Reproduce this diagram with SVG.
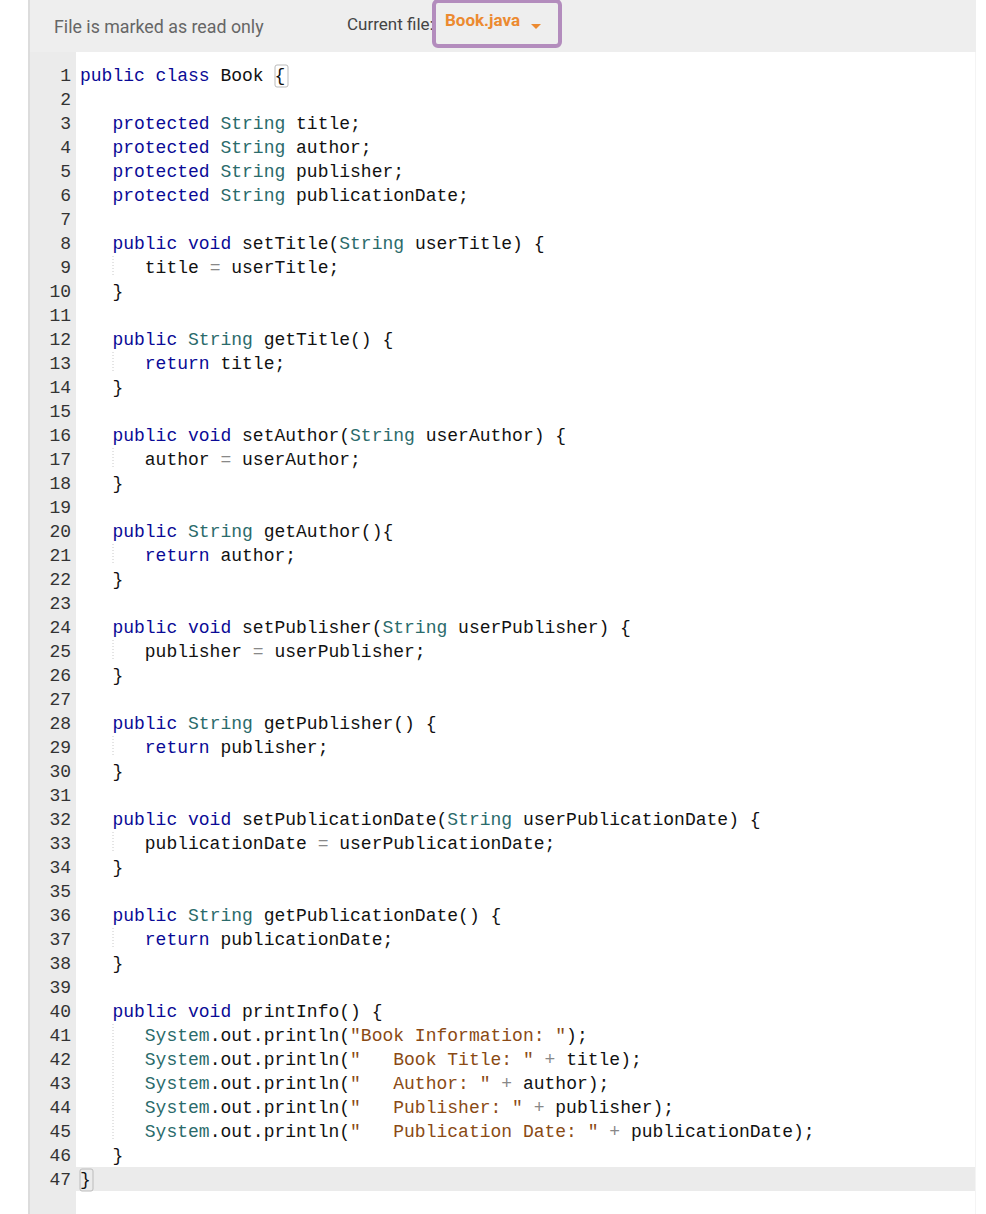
<svg xmlns="http://www.w3.org/2000/svg" width="986" height="1214" viewBox="0 0 986 1214">
<style>
.c{font-family:"Liberation Mono",monospace;font-size:18px;fill:#111;white-space:pre}
.n{font-family:"Liberation Mono",monospace;font-size:18px;fill:#333;text-anchor:end}
.k{fill:#0a0a96}.t{fill:#2b6b6b}.s{fill:#8a4a14}.o{fill:#888}
.h{font-family:Roboto,"Liberation Sans",sans-serif;font-size:17.8px;fill:#666}
.g{stroke:#c8c8c8;stroke-width:1;stroke-dasharray:1 2}
</style>
<rect width="986" height="1214" fill="#fff"/>
<rect x="28" y="0" width="948" height="1214" fill="#f4f4f4"/>
<rect x="30" y="0" width="946" height="52" fill="#eeeeee"/>
<rect x="30" y="52" width="46" height="1162" fill="#ebebeb"/>
<rect x="76" y="52" width="899" height="1162" fill="#fff"/>
<rect x="30" y="1167" width="945" height="24" fill="#ebebeb"/>
<line x1="29" y1="0" x2="29" y2="1214" stroke="#dcdcdc" stroke-width="2"/>
<g id="header">
<text class="h" x="54" y="33">File is marked as read only</text>
<text class="h" x="347" y="30" style="fill:#444;font-size:17px">Current file:</text>
<rect x="434" y="1" width="126" height="45" rx="4" fill="none" stroke="#b38cbd" stroke-width="4"/>
<text x="445" y="26" font-family="Roboto,'Liberation Sans',sans-serif" font-size="17" font-weight="bold" fill="#ec8a30">Book.java</text>
<polygon points="531,24 541,24 536,29" fill="#ec8a30"/>
</g>
<g id="guides">
<line class="g" x1="113" y1="256" x2="113" y2="276"/>
<line class="g" x1="113" y1="352" x2="113" y2="372"/>
<line class="g" x1="113" y1="448" x2="113" y2="468"/>
<line class="g" x1="113" y1="544" x2="113" y2="564"/>
<line class="g" x1="113" y1="640" x2="113" y2="660"/>
<line class="g" x1="113" y1="736" x2="113" y2="756"/>
<line class="g" x1="113" y1="832" x2="113" y2="852"/>
<line class="g" x1="113" y1="928" x2="113" y2="948"/>
<line class="g" x1="113" y1="1024" x2="113" y2="1140"/>
</g>
<g id="brackets">
<rect x="275" y="65" width="13" height="22" rx="2" fill="none" stroke="#bbb"/>
<rect x="80" y="1169" width="13" height="22" rx="2" fill="none" stroke="#bbb"/>
</g>
<g id="linenumbers">
<text class="n" x="71" y="81">1</text><text class="n" x="71" y="105">2</text><text class="n" x="71" y="129">3</text><text class="n" x="71" y="153">4</text><text class="n" x="71" y="177">5</text><text class="n" x="71" y="201">6</text><text class="n" x="71" y="225">7</text><text class="n" x="71" y="249">8</text><text class="n" x="71" y="273">9</text><text class="n" x="71" y="297">10</text><text class="n" x="71" y="321">11</text><text class="n" x="71" y="345">12</text><text class="n" x="71" y="369">13</text><text class="n" x="71" y="393">14</text><text class="n" x="71" y="417">15</text><text class="n" x="71" y="441">16</text><text class="n" x="71" y="465">17</text><text class="n" x="71" y="489">18</text><text class="n" x="71" y="513">19</text><text class="n" x="71" y="537">20</text><text class="n" x="71" y="561">21</text><text class="n" x="71" y="585">22</text><text class="n" x="71" y="609">23</text><text class="n" x="71" y="633">24</text><text class="n" x="71" y="657">25</text><text class="n" x="71" y="681">26</text><text class="n" x="71" y="705">27</text><text class="n" x="71" y="729">28</text><text class="n" x="71" y="753">29</text><text class="n" x="71" y="777">30</text><text class="n" x="71" y="801">31</text><text class="n" x="71" y="825">32</text><text class="n" x="71" y="849">33</text><text class="n" x="71" y="873">34</text><text class="n" x="71" y="897">35</text><text class="n" x="71" y="921">36</text><text class="n" x="71" y="945">37</text><text class="n" x="71" y="969">38</text><text class="n" x="71" y="993">39</text><text class="n" x="71" y="1017">40</text><text class="n" x="71" y="1041">41</text><text class="n" x="71" y="1065">42</text><text class="n" x="71" y="1089">43</text><text class="n" x="71" y="1113">44</text><text class="n" x="71" y="1137">45</text><text class="n" x="71" y="1161">46</text><text class="n" x="71" y="1185">47</text>
</g>
<g id="code" xml:space="preserve">
<text class="c" x="80" y="81"><tspan class="k">public class</tspan> Book {</text>
<text class="c" x="80" y="129">   <tspan class="k">protected</tspan> <tspan class="t">String</tspan> title;</text>
<text class="c" x="80" y="153">   <tspan class="k">protected</tspan> <tspan class="t">String</tspan> author;</text>
<text class="c" x="80" y="177">   <tspan class="k">protected</tspan> <tspan class="t">String</tspan> publisher;</text>
<text class="c" x="80" y="201">   <tspan class="k">protected</tspan> <tspan class="t">String</tspan> publicationDate;</text>
<text class="c" x="80" y="249">   <tspan class="k">public void</tspan> setTitle(<tspan class="t">String</tspan> userTitle) {</text>
<text class="c" x="80" y="273">      title <tspan class="o">=</tspan> userTitle;</text>
<text class="c" x="80" y="297">   }</text>
<text class="c" x="80" y="345">   <tspan class="k">public</tspan> <tspan class="t">String</tspan> getTitle() {</text>
<text class="c" x="80" y="369">      <tspan class="k">return</tspan> title;</text>
<text class="c" x="80" y="393">   }</text>
<text class="c" x="80" y="441">   <tspan class="k">public void</tspan> setAuthor(<tspan class="t">String</tspan> userAuthor) {</text>
<text class="c" x="80" y="465">      author <tspan class="o">=</tspan> userAuthor;</text>
<text class="c" x="80" y="489">   }</text>
<text class="c" x="80" y="537">   <tspan class="k">public</tspan> <tspan class="t">String</tspan> getAuthor(){</text>
<text class="c" x="80" y="561">      <tspan class="k">return</tspan> author;</text>
<text class="c" x="80" y="585">   }</text>
<text class="c" x="80" y="633">   <tspan class="k">public void</tspan> setPublisher(<tspan class="t">String</tspan> userPublisher) {</text>
<text class="c" x="80" y="657">      publisher <tspan class="o">=</tspan> userPublisher;</text>
<text class="c" x="80" y="681">   }</text>
<text class="c" x="80" y="729">   <tspan class="k">public</tspan> <tspan class="t">String</tspan> getPublisher() {</text>
<text class="c" x="80" y="753">      <tspan class="k">return</tspan> publisher;</text>
<text class="c" x="80" y="777">   }</text>
<text class="c" x="80" y="825">   <tspan class="k">public void</tspan> setPublicationDate(<tspan class="t">String</tspan> userPublicationDate) {</text>
<text class="c" x="80" y="849">      publicationDate <tspan class="o">=</tspan> userPublicationDate;</text>
<text class="c" x="80" y="873">   }</text>
<text class="c" x="80" y="921">   <tspan class="k">public</tspan> <tspan class="t">String</tspan> getPublicationDate() {</text>
<text class="c" x="80" y="945">      <tspan class="k">return</tspan> publicationDate;</text>
<text class="c" x="80" y="969">   }</text>
<text class="c" x="80" y="1017">   <tspan class="k">public void</tspan> printInfo() {</text>
<text class="c" x="80" y="1041">      <tspan class="t">System</tspan>.out.println(<tspan class="s">"Book Information: "</tspan>);</text>
<text class="c" x="80" y="1065">      <tspan class="t">System</tspan>.out.println(<tspan class="s">"   Book Title: "</tspan> <tspan class="o">+</tspan> title);</text>
<text class="c" x="80" y="1089">      <tspan class="t">System</tspan>.out.println(<tspan class="s">"   Author: "</tspan> <tspan class="o">+</tspan> author);</text>
<text class="c" x="80" y="1113">      <tspan class="t">System</tspan>.out.println(<tspan class="s">"   Publisher: "</tspan> <tspan class="o">+</tspan> publisher);</text>
<text class="c" x="80" y="1137">      <tspan class="t">System</tspan>.out.println(<tspan class="s">"   Publication Date: "</tspan> <tspan class="o">+</tspan> publicationDate);</text>
<text class="c" x="80" y="1161">   }</text>
<text class="c" x="80" y="1185">}</text>
</g>
</svg>
